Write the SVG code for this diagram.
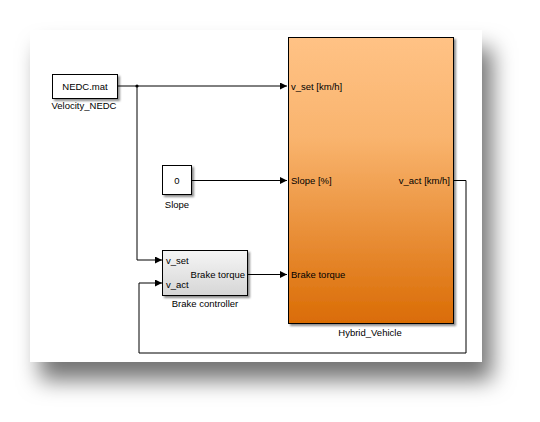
<svg xmlns="http://www.w3.org/2000/svg" width="540" height="422" viewBox="0 0 540 422">
<defs>
<style>
.t{font-family:"Liberation Sans",Arial,sans-serif;font-size:9.5px;fill:#000}
.c{text-anchor:middle}
.e{text-anchor:end}
.w{stroke:#000;stroke-width:1;fill:none}
.blk{stroke:#000;stroke-width:1}
</style>
<filter id="bigShadow" x="-20%" y="-20%" width="150%" height="150%">
<feDropShadow dx="10" dy="18" stdDeviation="11" flood-color="#000" flood-opacity="0.55"/>
</filter>
<filter id="sh" x="-20%" y="-20%" width="150%" height="150%">
<feDropShadow dx="2" dy="2" stdDeviation="1.2" flood-color="#000" flood-opacity="0.45"/>
</filter>
<linearGradient id="orange" x1="0" y1="0" x2="0" y2="1">
<stop offset="0" stop-color="#FFC285"/>
<stop offset="0.35" stop-color="#F9B46E"/>
<stop offset="1" stop-color="#DA6C05"/>
</linearGradient>
<linearGradient id="gray" x1="0" y1="0" x2="0" y2="1">
<stop offset="0" stop-color="#F5F5F5"/>
<stop offset="1" stop-color="#D6D6D6"/>
</linearGradient>
<marker id="arr" markerWidth="7" markerHeight="7" refX="7" refY="3.5" orient="auto" markerUnits="userSpaceOnUse">
<path d="M0,0 L7,3.5 L0,7 Z" fill="#000"/>
</marker>
</defs>
<rect width="540" height="422" fill="#fff"/>
<rect id="panel" x="30" y="30" width="452" height="332" fill="#fff" filter="url(#bigShadow)"/>

<g id="connectors">
<path class="w" d="M118,86 H287" marker-end="url(#arr)"/>
<path class="w" d="M137,86 V260 H162" marker-end="url(#arr)"/>
<circle cx="137" cy="86" r="1.6" fill="#000"/>
<path class="w" d="M192,180.5 H287" marker-end="url(#arr)"/>
<path class="w" d="M248,274.5 H287" marker-end="url(#arr)"/>
<path class="w" d="M454,180.5 H466 V353 H139 V283 H162" marker-end="url(#arr)"/>
</g>

<g id="velocity_nedc">
<rect class="blk" x="52.5" y="74.5" width="65" height="24" fill="#fff" filter="url(#sh)"/>
<text class="t c" x="85" y="89.5">NEDC.mat</text>
<text class="t c" x="84" y="109">Velocity_NEDC</text>
</g>

<g id="slope">
<rect class="blk" x="162.5" y="165.5" width="29" height="29" fill="#fff" filter="url(#sh)"/>
<text class="t c" x="177" y="184">0</text>
<text class="t c" x="177" y="207.5">Slope</text>
</g>

<g id="brake_controller">
<rect class="blk" x="162.5" y="250.5" width="85" height="45" fill="url(#gray)" filter="url(#sh)"/>
<text class="t" x="166" y="263.5">v_set</text>
<text class="t e" x="245" y="277.5">Brake torque</text>
<text class="t" x="166" y="288">v_act</text>
<text class="t c" x="205" y="307">Brake controller</text>
</g>

<g id="hybrid_vehicle">
<rect class="blk" x="288.5" y="37.5" width="165" height="286" fill="url(#orange)" filter="url(#sh)"/>
<text class="t" x="291" y="89.5">v_set [km/h]</text>
<text class="t" x="291" y="184">Slope [%]</text>
<text class="t e" x="450" y="184">v_act [km/h]</text>
<text class="t" x="291" y="278">Brake torque</text>
<text class="t c" x="370" y="336">Hybrid_Vehicle</text>
</g>
</svg>
